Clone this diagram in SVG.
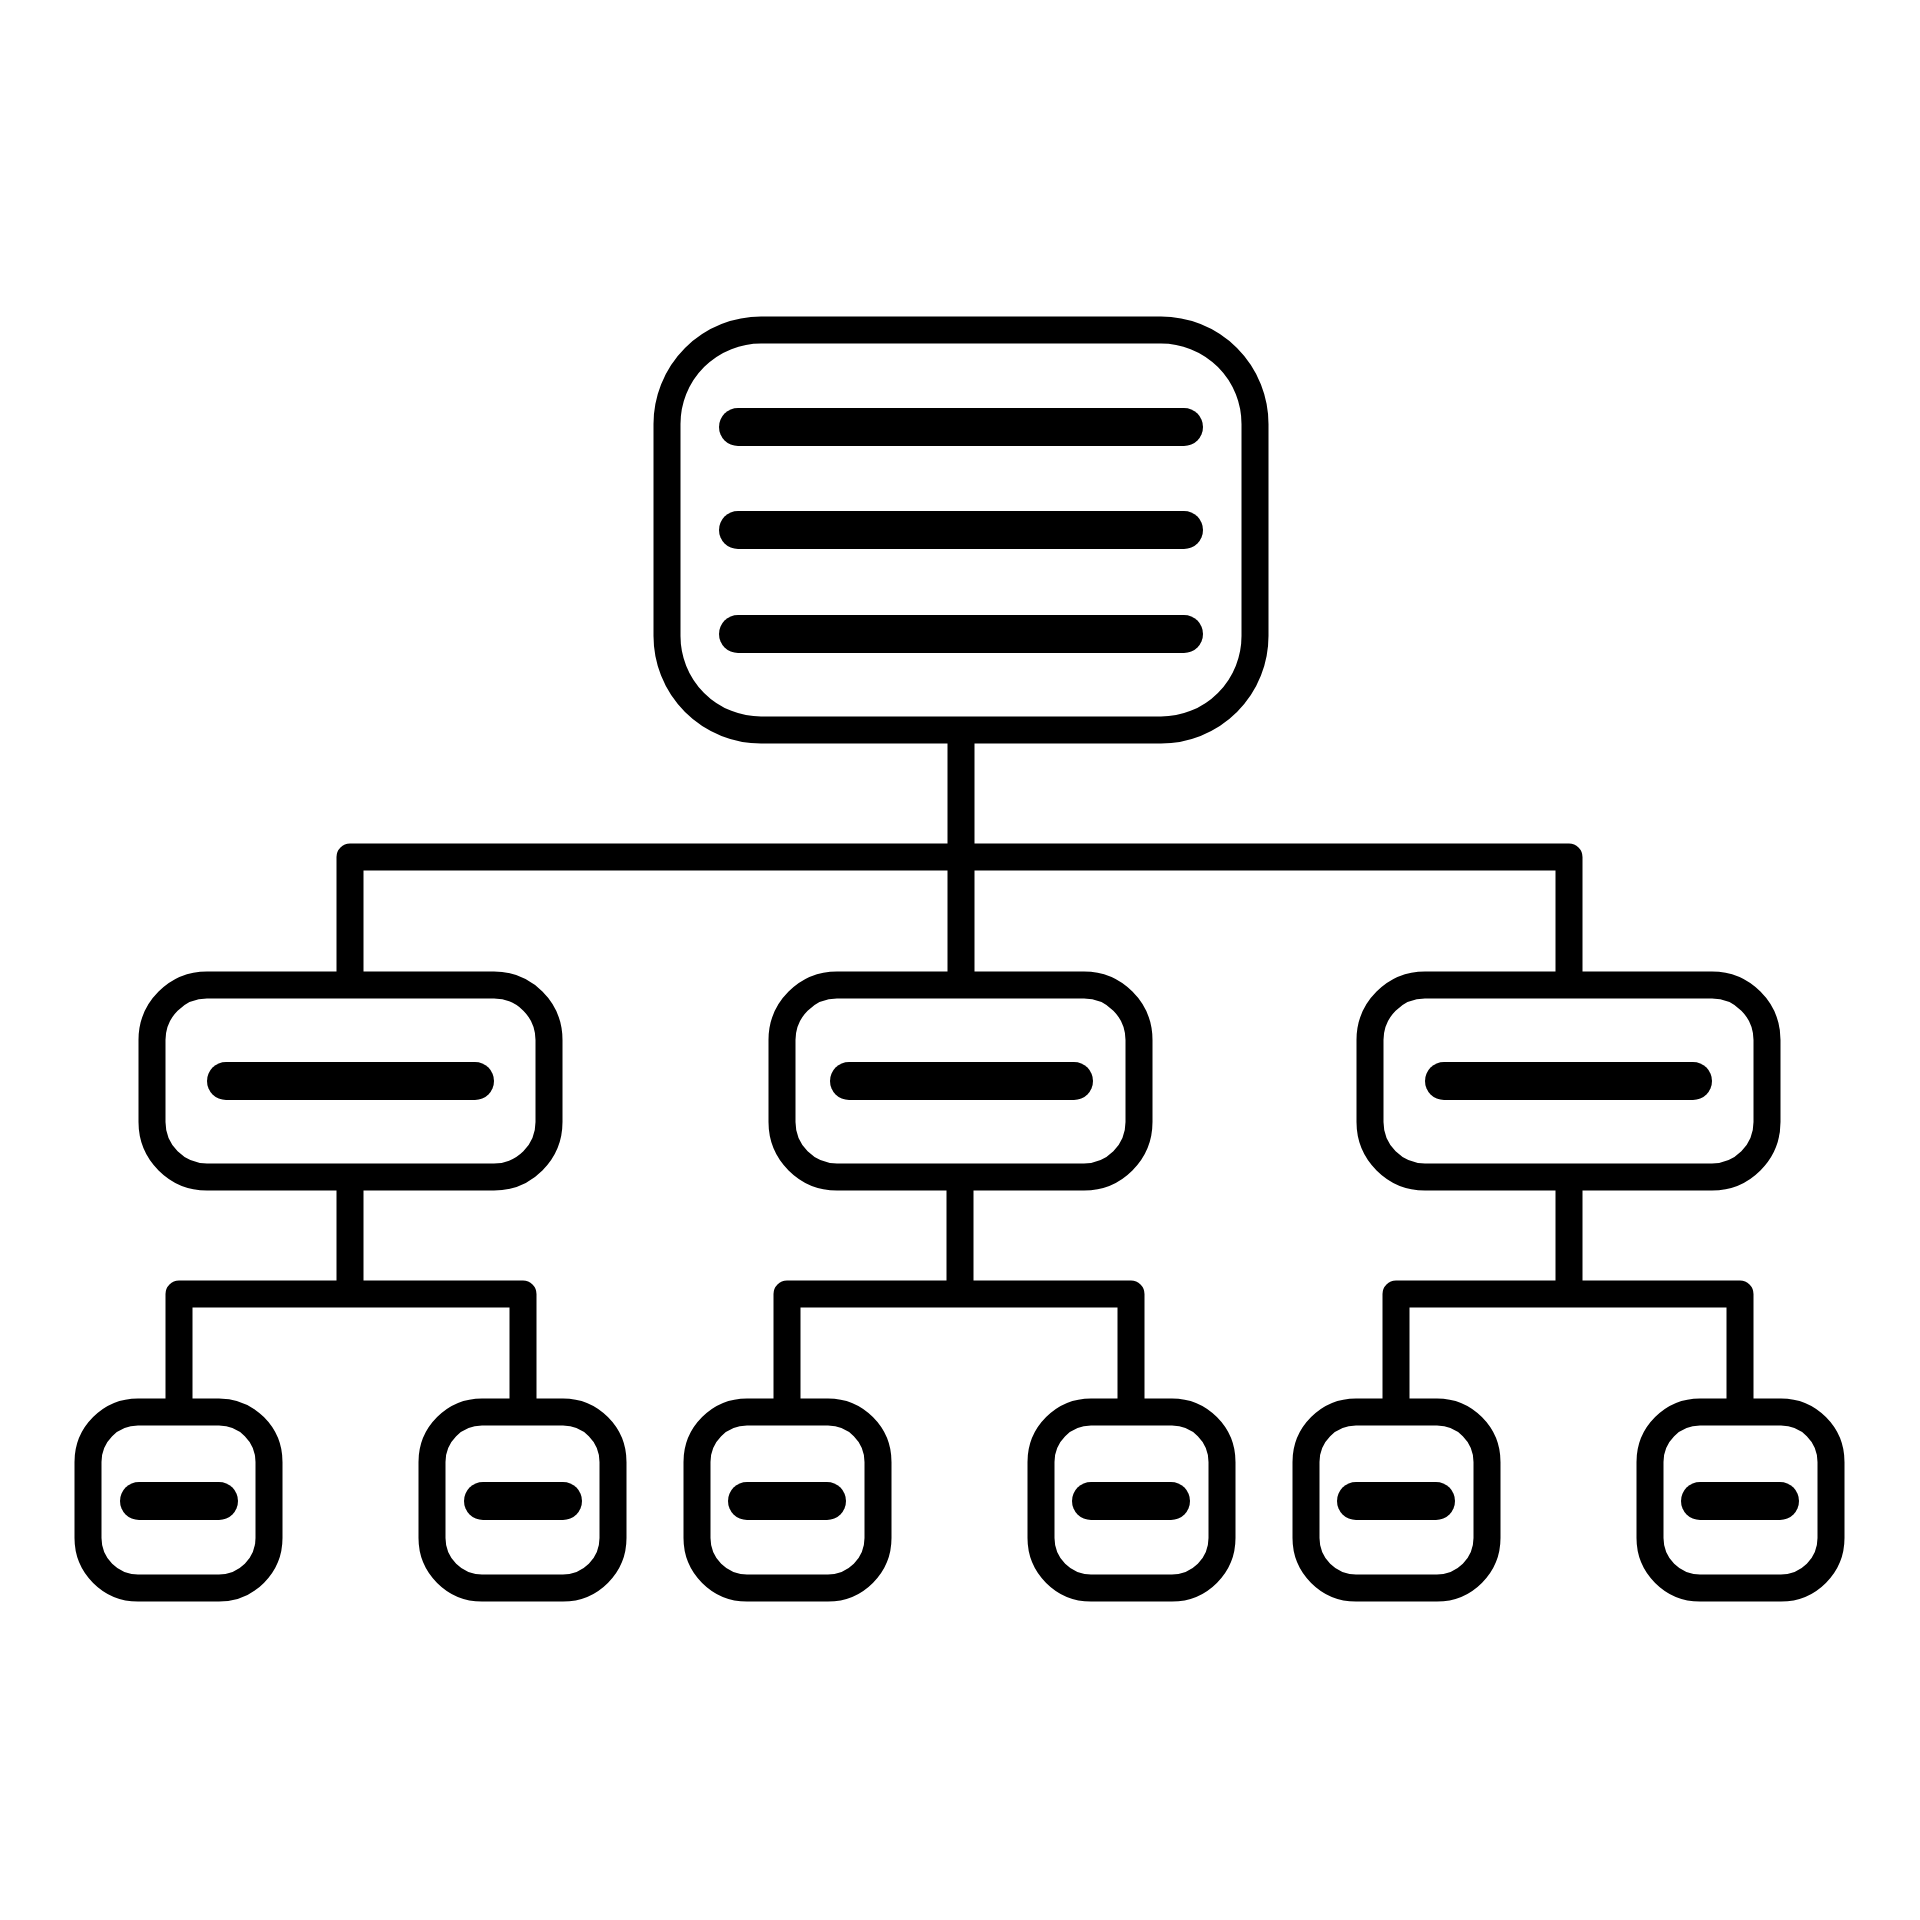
<svg xmlns="http://www.w3.org/2000/svg" width="1920" height="1920" viewBox="0 0 1920 1920">
<style>
.s{fill:#fff;stroke:#000;stroke-width:27}
.c{fill:none;stroke:#000;stroke-width:27;stroke-linejoin:round}
.l{stroke:#000;stroke-width:38;stroke-linecap:round}
</style>
<rect width="1920" height="1920" fill="#fff"/>
<g id="connectors">
<path class="c" d="M961 730V985M350 985V857H1569V985"/>
<path class="c" d="M350 1177V1294M179 1412V1294H523V1412"/>
<path class="c" d="M960 1177V1294M787 1412V1294H1131V1412"/>
<path class="c" d="M1569 1177V1294M1396 1412V1294H1740V1412"/>
</g>
<g id="root">
<rect class="s" x="667" y="330" width="588" height="400" rx="94"/>
<line class="l" x1="738" y1="427" x2="1184" y2="427"/>
<line class="l" x1="738" y1="530" x2="1184" y2="530"/>
<line class="l" x1="738" y1="634" x2="1184" y2="634"/>
</g>
<g id="mid-left">
<rect class="s" x="152" y="985" width="397" height="192" rx="55"/>
<line class="l" x1="226" y1="1081" x2="475" y2="1081"/>
</g>
<g id="mid-center">
<rect class="s" x="782" y="985" width="357" height="192" rx="55"/>
<line class="l" x1="849" y1="1081" x2="1074" y2="1081"/>
</g>
<g id="mid-right">
<rect class="s" x="1370" y="985" width="397" height="192" rx="55"/>
<line class="l" x1="1444" y1="1081" x2="1693" y2="1081"/>
</g>
<g id="leaf1"><rect class="s" x="88" y="1412" width="181" height="176" rx="50"/><line class="l" x1="139" y1="1501" x2="219" y2="1501"/></g>
<g id="leaf2"><rect class="s" x="432" y="1412" width="181" height="176" rx="50"/><line class="l" x1="483" y1="1501" x2="563" y2="1501"/></g>
<g id="leaf3"><rect class="s" x="697" y="1412" width="181" height="176" rx="50"/><line class="l" x1="747" y1="1501" x2="827" y2="1501"/></g>
<g id="leaf4"><rect class="s" x="1041" y="1412" width="181" height="176" rx="50"/><line class="l" x1="1091" y1="1501" x2="1171" y2="1501"/></g>
<g id="leaf5"><rect class="s" x="1306" y="1412" width="181" height="176" rx="50"/><line class="l" x1="1356" y1="1501" x2="1436" y2="1501"/></g>
<g id="leaf6"><rect class="s" x="1650" y="1412" width="181" height="176" rx="50"/><line class="l" x1="1700" y1="1501" x2="1780" y2="1501"/></g>
</svg>
